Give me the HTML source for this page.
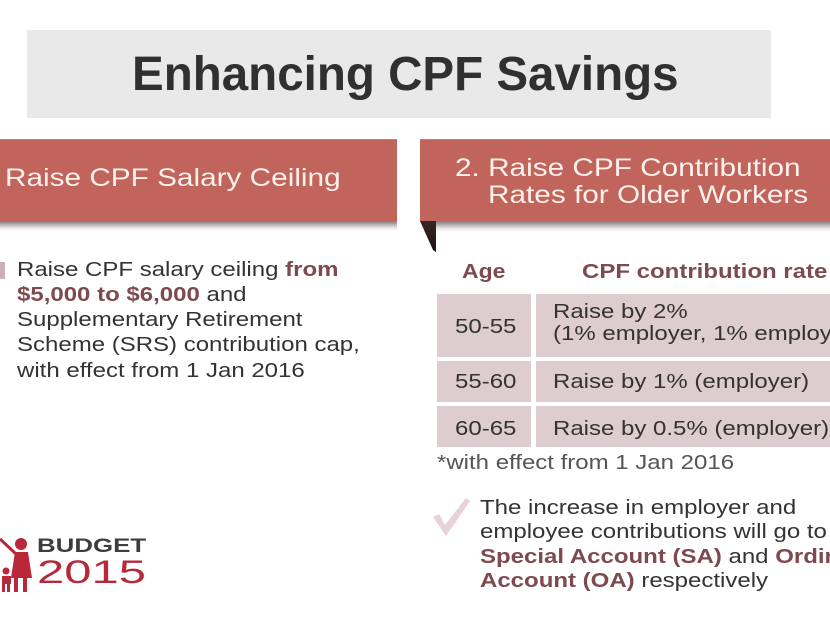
<!DOCTYPE html>
<html>
<head>
<meta charset="utf-8">
<style>
html,body{margin:0;padding:0;}
body{width:830px;height:622px;overflow:hidden;background:#ffffff;font-family:"Liberation Sans",Arial,sans-serif;}
#wrap{position:relative;width:830px;height:622px;overflow:hidden;}
.abs{position:absolute;}
.t{position:absolute;white-space:nowrap;line-height:1;transform-origin:0 0;}
.b20{font-size:20px;transform:scaleX(1.2);color:#333;}
.br{color:#7d4a50;font-weight:bold;}
.ban{font-size:25px;color:#fdf1ec;transform:scaleX(1.19);}
.row{position:absolute;background:#ddccd0;}
</style>
</head>
<body>
<div id="wrap">
<!-- title box -->
<div class="abs" style="left:27px;top:30px;width:744px;height:88px;background:#e9e9e9;"></div>
<div class="t" style="left:132px;top:51px;font-size:48px;font-weight:bold;color:#303030;transform:scaleX(0.99);">Enhancing CPF Savings</div>

<!-- left banner -->
<div class="abs" style="left:0;top:139px;width:397px;height:82px;background:#c1645b;border-top:1px solid #cf7a70;box-sizing:border-box;"></div>
<div class="abs" style="left:0;top:221px;width:397px;height:10px;background:linear-gradient(to bottom,rgba(45,30,30,0.6),rgba(120,100,100,0.15) 70%,rgba(255,255,255,0));"></div>
<div class="t ban" style="left:5px;top:166px;">Raise CPF Salary Ceiling</div>

<!-- right banner -->
<div class="abs" style="left:420px;top:139px;width:410px;height:82px;background:#c1645b;border-top:1px solid #cf7a70;box-sizing:border-box;"></div>
<div class="abs" style="left:436px;top:221px;width:394px;height:11px;background:linear-gradient(to bottom,rgba(45,30,30,0.6),rgba(120,100,100,0.15) 70%,rgba(255,255,255,0));"></div>
<svg class="abs" style="left:418px;top:219px;" width="22" height="36" viewBox="0 0 22 36">
  <defs><linearGradient id="fg" x1="0" y1="0" x2="0" y2="1"><stop offset="0" stop-color="#3a2424"/><stop offset="1" stop-color="#1e1414"/></linearGradient></defs>
  <polygon points="2,2 18,2 18,33 15,31" fill="url(#fg)"/>
</svg>
<div class="t ban" style="left:455px;top:156px;">2. Raise CPF Contribution</div>
<div class="t ban" style="left:488px;top:183px;">Rates for Older Workers</div>

<!-- left paragraph -->
<div class="abs" style="left:0;top:262px;width:5px;height:17px;background:#cbb0b6;"></div>
<div class="t b20" style="left:17px;top:260px;">Raise CPF salary ceiling <span class="br">from</span></div>
<div class="t b20" style="left:17px;top:285px;"><span class="br">$5,000 to $6,000</span> and</div>
<div class="t b20" style="left:17px;top:310px;">Supplementary Retirement</div>
<div class="t b20" style="left:17px;top:335px;">Scheme (SRS) contribution cap,</div>
<div class="t b20" style="left:17px;top:361px;">with effect from 1 Jan 2016</div>

<!-- logo -->
<svg class="abs" style="left:0;top:530px;" width="36" height="66" viewBox="0 0 36 66">
  <g fill="#b8283a" stroke="none">
    <circle cx="21" cy="14" r="6"/>
    <polygon points="15,22 28,22 32,48 11,48"/>
    <rect x="14" y="48" width="4" height="14"/>
    <rect x="23" y="48" width="4" height="14"/>
    <circle cx="6" cy="41" r="3.5"/>
    <rect x="2" y="46" width="9" height="8"/>
    <rect x="2" y="54" width="3" height="8"/>
    <rect x="7" y="54" width="3" height="8"/>
  </g>
  <line x1="16" y1="24" x2="0" y2="9" stroke="#b8283a" stroke-width="3"/>
</svg>
<div class="t" style="left:37px;top:537px;font-size:19px;font-weight:bold;color:#3d3d3d;transform:scaleX(1.36);">BUDGET</div>
<div class="t" style="left:37px;top:556px;font-size:32px;color:#b52a3b;transform:scaleX(1.53);">2015</div>

<!-- table -->
<div class="t b20 br" style="left:462px;top:262px;transform:scaleX(1.15);">Age</div>
<div class="t b20 br" style="left:582px;top:262px;">CPF contribution rate</div>

<div class="row" style="left:437px;top:294px;width:94px;height:63px;"></div>
<div class="row" style="left:536px;top:294px;width:294px;height:63px;"></div>
<div class="row" style="left:437px;top:361px;width:94px;height:41px;"></div>
<div class="row" style="left:536px;top:361px;width:294px;height:41px;"></div>
<div class="row" style="left:437px;top:406px;width:94px;height:41px;"></div>
<div class="row" style="left:536px;top:406px;width:294px;height:41px;"></div>

<div class="t b20" style="left:455px;top:317px;">50-55</div>
<div class="t b20" style="left:553px;top:302px;">Raise by 2%</div>
<div class="t b20" style="left:553px;top:324px;">(1% employer, 1% employee)</div>
<div class="t b20" style="left:455px;top:372px;">55-60</div>
<div class="t b20" style="left:553px;top:372px;">Raise by 1% (employer)</div>
<div class="t b20" style="left:455px;top:419px;">60-65</div>
<div class="t b20" style="left:553px;top:419px;">Raise by 0.5% (employer)</div>

<div class="t b20" style="left:437px;top:453px;color:#555;">*with effect from 1 Jan 2016</div>

<!-- check mark -->
<svg class="abs" style="left:430px;top:495px;" width="42" height="45" viewBox="0 0 42 45">
  <path d="M3,22 L9,19 L15,30 L36,3 L40,6 L16,41 Z" fill="#e6d2d8"/>
</svg>

<div class="t b20" style="left:480px;top:498px;">The increase in employer and</div>
<div class="t b20" style="left:480px;top:522px;">employee contributions will go to</div>
<div class="t b20" style="left:480px;top:547px;"><span class="br">Special Account (SA)</span> and <span class="br">Ordinary</span></div>
<div class="t b20" style="left:480px;top:571px;"><span class="br">Account (OA)</span> respectively</div>
</div>
</body>
</html>
